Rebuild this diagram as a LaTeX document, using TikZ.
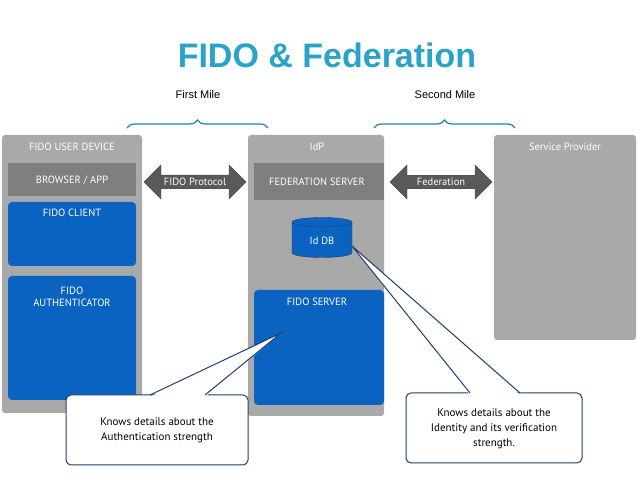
\documentclass[tikz,border=0pt]{standalone}
\usepackage{fontspec}
\setmainfont{Liberation Sans}
\newfontfamily\lab{PT Sans}
\usetikzlibrary{shapes.geometric,shapes.arrows,decorations.pathreplacing}
\definecolor{pgrey}{HTML}{A9A9A9}
\definecolor{dgrey}{HTML}{7F7F7F}
\definecolor{ddgrey}{HTML}{595959}
\definecolor{fblue}{HTML}{0B63C1}
\definecolor{tblue}{HTML}{2AA3C8}
\definecolor{cborder}{HTML}{1F3F6F}
\tikzset{
 panel/.style={fill=pgrey,draw=none,rounded corners=3pt},
 dbox/.style={fill=dgrey,draw=none},
 bbox/.style={fill=fblue,draw=none,rounded corners=4pt},
 wt/.style={text=white,font=\lab\fontsize{10.5}{12.5}\selectfont,align=center},
 dbl/.style={double arrow,fill=ddgrey,draw=black!70,double arrow head extend=6pt,minimum height=102pt,minimum width=34pt,inner sep=0pt,text=white,font=\lab\fontsize{10.5}{12}\selectfont},
 call/.style={fill=white,draw=cborder,line width=1pt,rounded corners=5pt},
 ct/.style={font=\lab\fontsize{11}{15}\selectfont,align=center},
 brace/.style={draw=tblue!80!black,line width=1.2pt,decorate,decoration={brace,amplitude=8pt}}
}
\begin{document}
\begin{tikzpicture}[x=1pt,y=-1pt]
\useasboundingbox (0,0) rectangle (638,478);
\node (title) at (327,55) {\textcolor{tblue}{\bfseries\fontsize{34}{38}\selectfont FIDO \& Federation}};
\coordinate (b1a) at (127,128); \coordinate (b1b) at (268,128);
\coordinate (b2a) at (374,128); \coordinate (b2b) at (515,128);
\draw[brace] (b1a) -- (b1b);
\draw[brace] (b2a) -- (b2b);
\node (fm) at (198,95) {\fontsize{11}{13}\selectfont First Mile};
\node (sm) at (445,95) {\fontsize{11}{13}\selectfont Second Mile};
% panels
\fill[panel] (2,135) rectangle (142,413);
\fill[panel] (248,135) rectangle (384,416);
\fill[panel] (494,135) rectangle (636,340);
\node[wt] (h1) at (72,147) {FIDO USER DEVICE};
\node[wt] (h2) at (317,147) {IdP};
\node[wt] (h3) at (565,147) {Service Provider};
\fill[dbox] (8,163) rectangle (136,196);
\node[wt] (br) at (72,180) {BROWSER / APP};
\fill[bbox] (8,202) rectangle (136,266);
\node[wt] (fc) at (72,213) {FIDO CLIENT};
\fill[bbox] (8,276) rectangle (136,400);
\node[wt] (fa) at (72,297) {FIDO\\AUTHENTICATOR};
\fill[dbox] (254,163) rectangle (384,200);
\node[wt] (fs) at (317,182) {FEDERATION SERVER};
\fill[bbox] (254,290) rectangle (384,405);
\node[wt] (fsv) at (317,302) {FIDO SERVER};
\node[dbl] (fp) at (195,182) {FIDO Protocol};
\node[dbl] (fed) at (441,182) {Federation};
\node[cylinder,shape border rotate=90,aspect=0.3,minimum width=60pt,minimum height=40pt,fill=fblue,draw=cborder,wt] (db) at (322,241) {Id DB};
% callouts
\fill[call] (66,395) rectangle (248,465);
\fill[call] (406,393) rectangle (582,463);
\coordinate (p1) at (281,333);
\coordinate (p2) at (352,246);
\fill[white] (150,397) -- (p1) -- (205,397) -- cycle;
\draw[cborder,line width=1pt] (150,395) -- (p1) -- (205,395);
\fill[white] (470,395) -- (p2) -- (520,395) -- cycle;
\draw[cborder,line width=1pt] (470,393) -- (p2) -- (520,393);
\node[ct] (c1) at (157,430) {Knows details about the\\Authentication strength};
\node[ct] (c2) at (494,429) {Knows details about the\\Identity and its verification\\strength.};
\end{tikzpicture}
\end{document}
